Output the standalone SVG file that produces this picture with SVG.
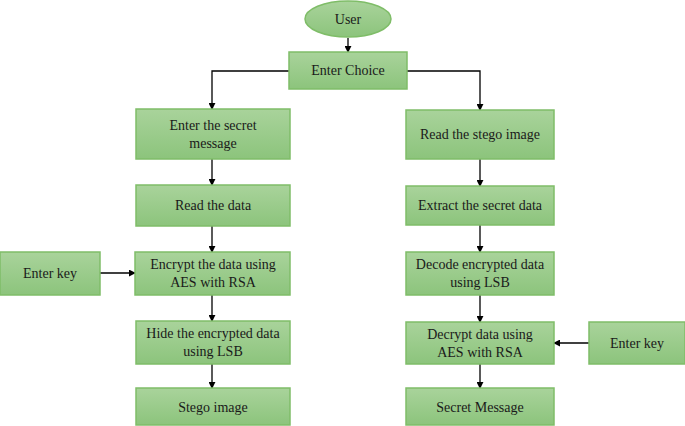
<svg xmlns="http://www.w3.org/2000/svg" width="685" height="426" viewBox="0 0 685 426">
<defs>
<linearGradient id="g" x1="0" y1="0" x2="0" y2="1">
<stop offset="0" stop-color="#a9d39b"/>
<stop offset="1" stop-color="#8cc47c"/>
</linearGradient>
<marker id="ah" viewBox="0 0 8 8" refX="7" refY="4" markerWidth="7" markerHeight="7" markerUnits="userSpaceOnUse" orient="auto">
<path d="M0,0 L8,4 L0,8 z" fill="#000"/>
</marker>
<style>
.n{fill:url(#g);stroke:#7fbd68;stroke-width:1.5}
.t{font-size:14px;fill:#1a1a1a;text-anchor:middle}
.c{fill:none;stroke:#000;stroke-width:1.3;marker-end:url(#ah)}
</style>
</defs>
<rect width="685" height="426" fill="#fff"/>
<g id="connectors">
<path class="c" d="M348,38 V52"/>
<path class="c" d="M289,71 H212 V109"/>
<path class="c" d="M407,71 H480 V110"/>
<path class="c" d="M212,159 V185"/>
<path class="c" d="M212,226 V252"/>
<path class="c" d="M212,295 V321"/>
<path class="c" d="M212,364 V388"/>
<path class="c" d="M100,273 H135"/>
<path class="c" d="M480,159 V186"/>
<path class="c" d="M480,225 V252"/>
<path class="c" d="M480,295 V322"/>
<path class="c" d="M480,364 V388"/>
<path class="c" d="M589,343 H554"/>
</g>
<g font-family="'Liberation Serif', 'DejaVu Serif', 'Times New Roman', serif">
<g id="user"><ellipse class="n" cx="348" cy="19" rx="43" ry="18"/><text class="t" x="348" y="24">User</text></g>
<g id="choice"><rect class="n" x="289" y="52" width="118" height="37"/><text class="t" x="348" y="75">Enter Choice</text></g>
<g id="secret"><rect class="n" x="136" y="109" width="154" height="50"/><text class="t" x="213" y="130">Enter the secret</text><text class="t" x="213" y="148">message</text></g>
<g id="readdata"><rect class="n" x="136" y="185" width="154" height="41"/><text class="t" x="213" y="210">Read the data</text></g>
<g id="encrypt"><rect class="n" x="135" y="252" width="155" height="43"/><text class="t" x="213" y="269">Encrypt the data using</text><text class="t" x="213" y="287">AES with RSA</text></g>
<g id="keyleft"><rect class="n" x="0" y="252" width="100" height="43"/><text class="t" x="50" y="278">Enter key</text></g>
<g id="hide"><rect class="n" x="136" y="321" width="154" height="43"/><text class="t" x="213" y="338">Hide the encrypted data</text><text class="t" x="213" y="356">using LSB</text></g>
<g id="stego"><rect class="n" x="136" y="388" width="154" height="37"/><text class="t" x="213" y="412">Stego image</text></g>
<g id="readstego"><rect class="n" x="406" y="110" width="148" height="49"/><text class="t" x="480" y="139">Read the stego image</text></g>
<g id="extract"><rect class="n" x="406" y="186" width="148" height="39"/><text class="t" x="480" y="210">Extract the secret data</text></g>
<g id="decode"><rect class="n" x="406" y="252" width="148" height="43"/><text class="t" x="480" y="269">Decode encrypted data</text><text class="t" x="480" y="287">using LSB</text></g>
<g id="decrypt"><rect class="n" x="406" y="322" width="148" height="42"/><text class="t" x="480" y="339">Decrypt data using</text><text class="t" x="480" y="357">AES with RSA</text></g>
<g id="keyright"><rect class="n" x="589" y="322" width="96" height="42"/><text class="t" x="637" y="348">Enter key</text></g>
<g id="secretmsg"><rect class="n" x="406" y="388" width="148" height="37"/><text class="t" x="480" y="412">Secret Message</text></g>
</g>
</svg>
